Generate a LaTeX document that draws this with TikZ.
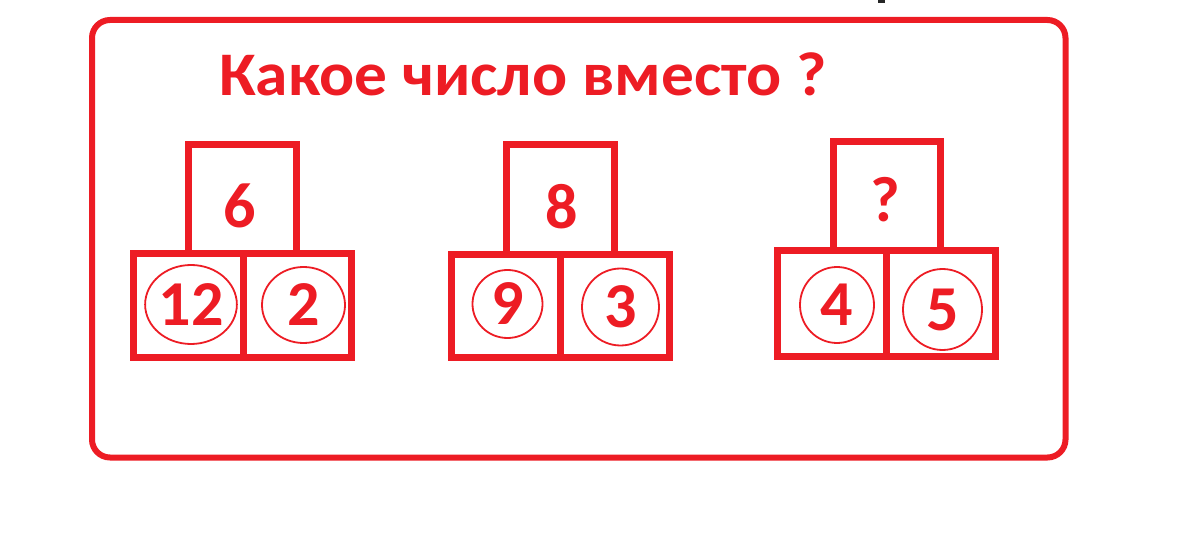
\documentclass[tikz,border=0pt]{standalone}
\usepackage{graphicx}
\usepackage{fontspec}
\setmainfont{Carlito}
\usetikzlibrary{shapes.geometric}
\definecolor{pred}{HTML}{ED1C24}
\begin{document}
\begin{tikzpicture}[x=1pt,y=-1pt,
  cell/.style={draw=pred, line width=7pt, inner sep=0pt},
  ring/.style={draw=pred, line width=1.8pt, ellipse, inner sep=0pt},
  num/.style={text=pred, font=\fontsize{64}{70}\selectfont\bfseries, inner sep=0pt},
  title/.style={text=pred, font=\fontsize{62}{72}\selectfont\bfseries, inner sep=0pt}]
\useasboundingbox (0,0) rectangle (1200,553);
% outer frame
\draw[pred, line width=6pt, rounded corners=18pt] (92,20) rectangle (1065.5,457.5);
\fill[black!85] (878,0) rectangle (885,3);
\node[title, anchor=base west] (t) at (219,96) {\scalebox{1.055}[1]{Какое число вместо ?}};
% group 1
\node[cell, minimum width=110pt, minimum height=104pt] (b1l) at (188,305.5) {};
\node[cell, minimum width=108pt, minimum height=104pt] (b1r) at (297,305.5) {};
\node[cell, minimum width=108pt, minimum height=109pt] (t1) at (242.5,199) {};
\node[num] (n1) at (240,205.5) {6};
\node[ring, minimum width=86pt, minimum height=79pt, num] (c1l) at (191,304.5) {12};
\node[ring, minimum width=83pt, minimum height=76pt, num] (c1r) at (303.5,305) {2};
% group 2
\node[cell, minimum width=109.5pt, minimum height=103pt] (b2l) at (505.75,306.5) {};
\node[cell, minimum width=108.5pt, minimum height=103pt] (b2r) at (614.75,306.5) {};
\node[cell, minimum width=108.5pt, minimum height=110pt] (t2) at (560.25,200) {};
\node[num] (n2) at (562,206.5) {8};
\node[ring, minimum width=70pt, minimum height=68pt, num] (c2l) at (507.5,304) {9};
\node[ring, minimum width=77pt, minimum height=77pt, num] (c2r) at (620.5,307) {3};
% group 3
\node[cell, minimum width=109.5pt, minimum height=106pt] (b3l) at (831.75,303.5) {};
\node[cell, minimum width=108.5pt, minimum height=106pt] (b3r) at (940.75,303.5) {};
\node[cell, minimum width=107pt, minimum height=109pt] (t3) at (887,196) {};
\node[num] (n3) at (885.5,200) {?};
\node[ring, minimum width=74pt, minimum height=76pt, num] (c3l) at (837,305) {4};
\node[ring, minimum width=79pt, minimum height=81pt, num] (c3r) at (942.5,309.5) {5};
\end{tikzpicture}
\end{document}
